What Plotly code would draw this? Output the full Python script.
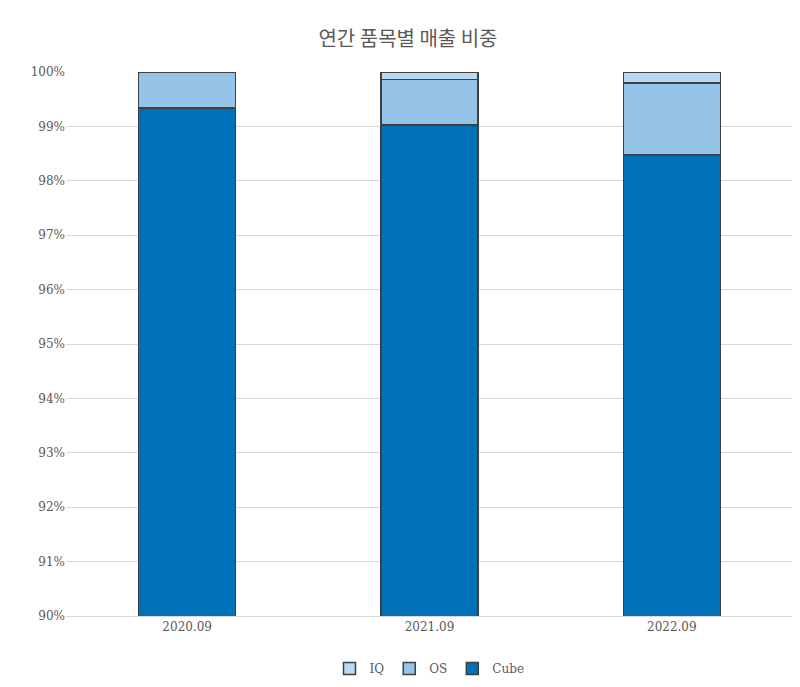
import plotly.graph_objects as go

categories = ["2020.09", "2021.09", "2022.09"]
cube = [99.34, 99.03, 98.47]
os_ = [0.66, 0.83, 1.33]
iq = [0.0, 0.14, 0.20]
tick_vals = list(range(90, 101))
tick_text = [f"{v}%" for v in tick_vals]

fig = go.Figure()
for name, vals, col in [("Cube", cube, "#0070B8"), ("OS", os_, "#95C4E8"), ("IQ", iq, "#B9D8F2")]:
    fig.add_bar(x=categories, y=vals, name=name, marker=dict(color=col, line=dict(color="#404040", width=1.5)), width=0.4)

fig.update_layout(
    barmode="stack", width=800, height=687, plot_bgcolor="white", paper_bgcolor="white",
    title=dict(text="연간 품목별 매출 비중", x=0.5, y=0.965, xanchor="center",
               font=dict(family="Noto Sans CJK KR", size=20, color="#595959")),
    margin=dict(l=58, r=15, t=64, b=69),
    font=dict(family="DejaVu Serif", size=12, color="#595959"),
    yaxis=dict(range=[90, 100], tickvals=tick_vals, ticktext=tick_text, gridcolor="#D9D9D9", zeroline=False),
    xaxis=dict(showline=True, linecolor="#D9D9D9", ticks=""),
    legend=dict(orientation="h", x=0.5, xanchor="center", y=-0.07, yanchor="top", font=dict(size=12)),
    bargap=0.6,
)
fig.write_html("out.html")
